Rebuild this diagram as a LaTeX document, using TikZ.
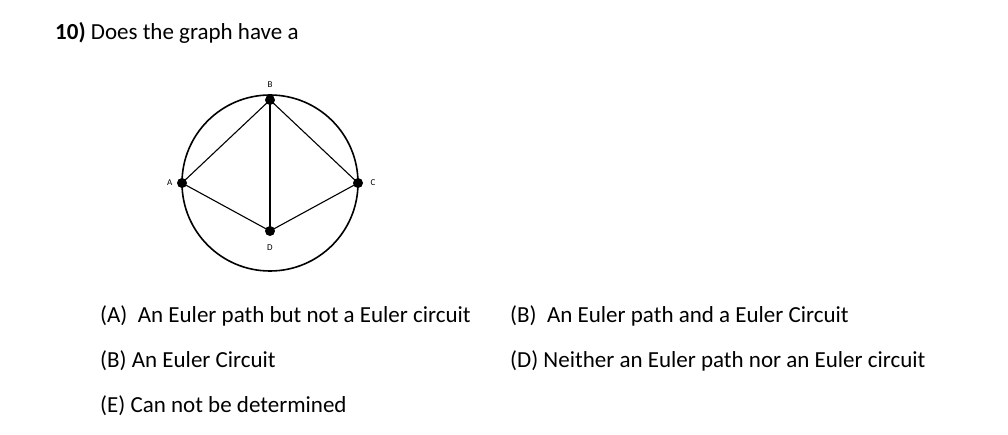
\documentclass[tikz,border=0pt]{standalone}
\usepackage{fontspec}
\setmainfont{Carlito}
\usetikzlibrary{positioning}
\tikzset{
  vertex/.style={circle, fill=black, inner sep=0pt, minimum size=10pt},
  vlabel/.style={font=\fontsize{9}{10}\selectfont},
  answer/.style={anchor=west, inner sep=0pt, font=\fontsize{23}{26}\selectfont}
}
\begin{document}
\begin{tikzpicture}[x=1pt, y=-1pt]
        \useasboundingbox (0,0) rectangle (1008,435);

        % Question
        \node[answer] (q) at (55,33) {\textbf{10)} Does the graph have a};

        % Graph
        \coordinate (O) at (270,183);
        \draw[line width=1.6pt] (O) circle[radius=88];
        \node[vertex] (B) at (270,100) {};
        \node[vertex] (A) at (182,183) {};
        \node[vertex] (C) at (358,183) {};
        \node[vertex] (D) at (270,231) {};
        \draw[line width=1.1pt] (A.center) -- (B.center) -- (C.center) -- (D.center) -- (A.center);
        \draw[line width=1.3pt] (B.center) -- (D.center);
        \node[vlabel, above=4pt of B] {B};
        \node[vlabel, left=1pt of A] {A};
        \node[vlabel, right=4pt of C] {C};
        \node[vlabel, below=5pt of D] {D};

        % Choices
        \node[answer] (a1) at (100,316) {(A)\ \ An Euler path but not a Euler circuit};
        \node[answer] (a2) at (510,316) {(B)\ \ An Euler path and a Euler Circuit};
        \node[answer] (a3) at (100,361) {(B) An Euler Circuit};
        \node[answer] (a4) at (510,361) {(D) Neither an Euler path nor an Euler circuit};
        \node[answer] (a5) at (100,406) {(E) Can not be determined};
\end{tikzpicture}
\end{document}
